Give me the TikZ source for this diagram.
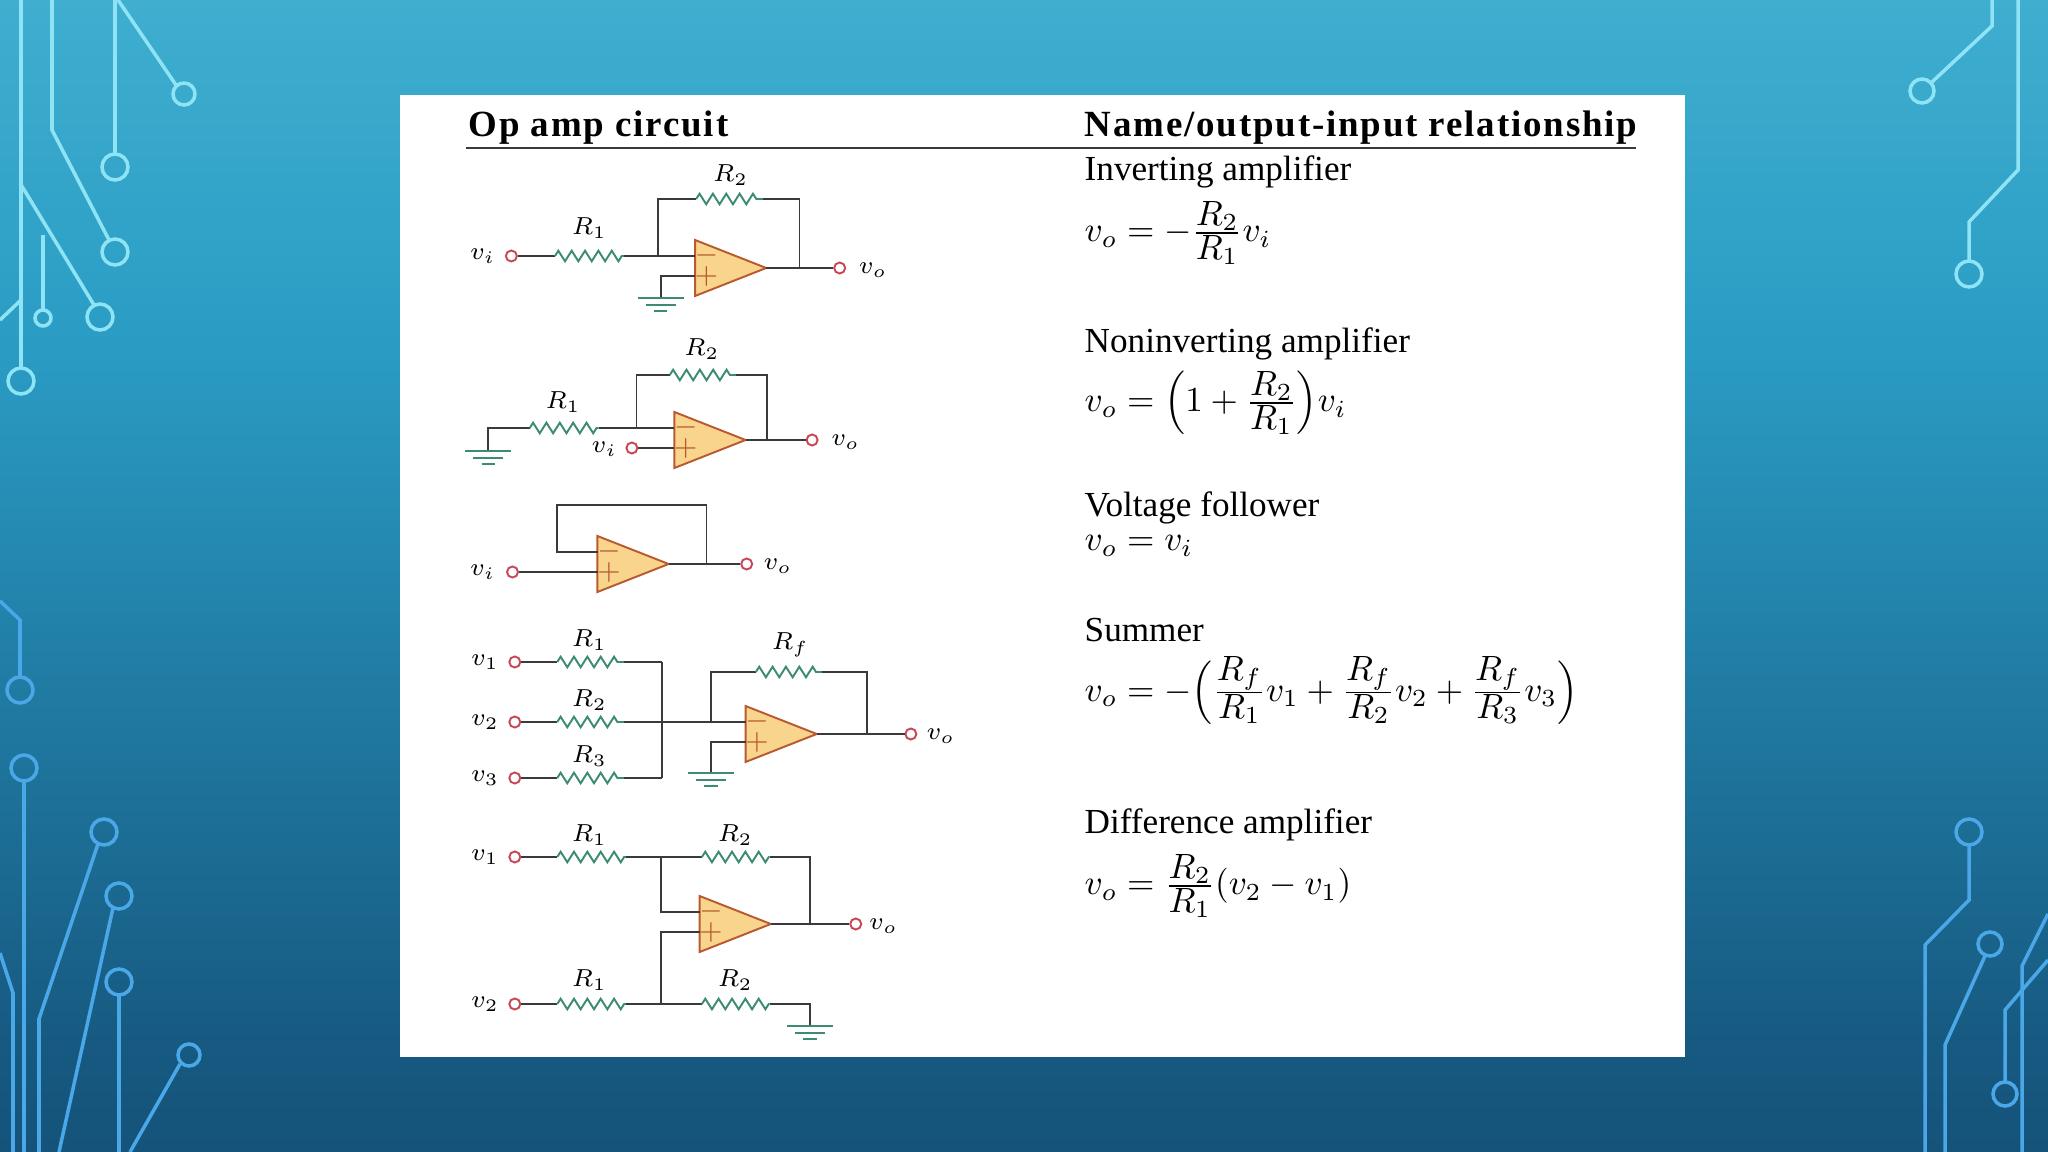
\documentclass[tikz,border=0pt]{standalone}
\usepackage{amsmath}
\usepackage{fontspec}
\setmainfont{Liberation Serif}
\usetikzlibrary{decorations.pathmorphing}
\definecolor{bgtop}{HTML}{62CCE2}
\definecolor{bgmid}{HTML}{2A9CC4}
\definecolor{bgbot}{HTML}{0A2E55}
\definecolor{deco}{HTML}{8EE4F4}
\definecolor{decob}{HTML}{4AA8E8}
\definecolor{wirec}{HTML}{3A3A3A}
\definecolor{resc}{HTML}{3C8C70}
\definecolor{oafill}{HTML}{F9D48C}
\definecolor{oaedge}{HTML}{B85A30}
\definecolor{termc}{HTML}{C84858}
\pgfdeclareverticalshading{bgsh}{100bp}{color(0bp)=(bgbot); color(30bp)=(bgbot!60!bgmid); color(60bp)=(bgmid); color(100bp)=(bgtop)}
\newcommand\ff[2]{\tfrac{\textstyle #1}{\textstyle #2}}
\tikzset{
 wire/.style={draw=wirec,line width=0.55pt},
 resst/.style={draw=resc,line width=0.55pt,decorate,decoration={zigzag,segment length=3.8pt,amplitude=1.5pt}},
 term/.style={circle,draw=termc,fill=white,line width=0.55pt,minimum size=0.11cm,inner sep=0pt},
 lab/.style={font=\fontsize{7.5}{8}\selectfont,inner sep=0pt},
 sgn/.style={text=oaedge,font=\fontsize{8}{8}\selectfont,inner sep=0pt},
 gnds/.style={draw=resc,line width=0.55pt},
 txt/.style={font=\fontsize{10}{12}\selectfont,anchor=west,inner sep=0pt},
 mth/.style={font=\fontsize{10}{12}\selectfont,anchor=west,inner sep=0pt},
 hdr/.style={font=\fontsize{10.5}{12}\selectfont\bfseries\addfontfeature{LetterSpace=5},anchor=base west,inner sep=0pt},
 dec/.style={draw=deco,line width=1pt},
 decb/.style={draw=decob,line width=1pt},
 zA/.style={shift={(400,0)},xscale=1.148,shift={(-400,0)}},
}
\newcommand\oa[3]{%
 \coordinate (#1-m) at (#2,#3-12);
 \coordinate (#1-p) at (#2,#3+8);
 \coordinate (#1-o) at (#2+62,#3);
 \draw[fill=oafill,draw=oaedge,line width=0.55pt] (#2,#3-28) -- (#2+62,#3) -- (#2,#3+28) -- cycle;
 \node[sgn] at (#2+10,#3-13) {$-$};
 \node[sgn] at (#2+10,#3+8) {$+$};}
\newcommand\gnd[2]{%
 \draw[gnds] (#1-20,#2) -- (#1+20,#2) (#1-13,#2+7) -- (#1+13,#2+7) (#1-6,#2+13) -- (#1+6,#2+13);}
\begin{document}
\begin{tikzpicture}[x=0.01cm,y=-0.01cm]
\useasboundingbox (0,0) rectangle (2048,1152);
\shade[shading=bgsh] (0,0) rectangle (2048,1152);
% decorations left
\draw[dec] (21,0) -- (21,368); \draw[dec,fill=none] (21,381) circle (13);
\draw[dec] (115,0) -- (115,154); \draw[dec] (115,167) circle (13);
\draw[dec] (118,0) -- (176,85); \draw[dec] (184,94) circle (11);
\draw[dec] (52,0) -- (52,130) -- (109,240); \draw[dec] (115,252) circle (13);
\draw[dec] (20,183) -- (94,305); \draw[dec] (100,317) circle (13);
\draw[dec] (43,235) -- (43,310); \draw[dec] (43,318) circle (8);
\draw[dec] (0,320) -- (21,300);
\draw[decb] (0,601) -- (20,620) -- (20,677); \draw[decb] (20,690) circle (13);
\draw[decb] (24,781) -- (24,1152); \draw[decb] (24,768) circle (13);
\draw[decb] (98,844) -- (39,1019) -- (39,1152); \draw[decb] (104,832) circle (13);
\draw[decb] (113,908) -- (59,1152); \draw[decb] (119,896) circle (13);
\draw[decb] (119,995) -- (119,1152); \draw[decb] (119,982) circle (13);
\draw[decb] (180,1064) -- (130,1152); \draw[decb] (189,1055) circle (11);
\draw[decb] (0,953) -- (13,993) -- (13,1152);
% decorations right
\draw[dec] (1932,82) -- (1992,26) -- (1992,0); \draw[dec] (1922,91) circle (12);
\draw[dec] (1969,261) -- (1969,222) -- (2018,170) -- (2018,0); \draw[dec] (1969,274) circle (13);
\draw[decb] (1969,845) -- (1969,900) -- (1925,945) -- (1925,1152); \draw[decb] (1969,832) circle (13);
\draw[decb] (1985,956) -- (1945,1045) -- (1945,1152); \draw[decb] (1990,944) circle (12);
\draw[decb] (2005,1081) -- (2005,1010) -- (2048,960); \draw[decb] (2005,1094) circle (12);
\draw[decb] (2048,914) -- (2022,966) -- (2022,1152);
% panel
\fill[white] (400,95) rectangle (1685,1057);
\node[hdr] (h1) at (468,137) {Op amp circuit};
\node[hdr] (h2) at (1084,137) {Name/output-input relationship};
\draw[wirec,line width=0.8pt] (466,148) -- (1636,148);
\begin{scope}[zA]
% circuit 1
\oa{A}{657}{268}
\node[term] (c1i) at (497,256) {}; \node[lab] at (472,256) {$v_i$};
\node[term] (c1o) at (783,268) {}; \node[lab] at (812,270) {$v_o$};
\draw[wire] (c1i) -- (535,256); \draw[resst] (535,256) -- (595,256); \draw[wire] (595,256) -- (A-m);
\draw[wire] (625,256) |- (658,199); \draw[resst] (658,199) -- (716,199); \draw[wire] (716,199) -| (748,268);
\draw[wire] (A-o) -- (c1o); \draw[wire] (A-p) -| (627,298); \gnd{627}{298}
\node[lab] at (565,228) {$R_1$}; \node[lab] at (688,175) {$R_2$};
% circuit 2
\oa{B}{639}{440}
\draw[wire] (477,451) |- (513,428); \gnd{477}{451}
\draw[resst] (513,428) -- (573,428); \draw[wire] (573,428) -- (B-m);
\draw[wire] (606,428) |- (635,375); \draw[resst] (635,375) -- (693,375); \draw[wire] (693,375) -| (720,440);
\node[term] (c2i) at (602,448) {}; \node[lab] at (578,449) {$v_i$};
\draw[wire] (c2i) -- (B-p);
\node[term] (c2o) at (759,440) {}; \node[lab] at (788,442) {$v_o$};
\draw[wire] (B-o) -- (c2o);
\node[lab] at (542,402) {$R_1$}; \node[lab] at (663,349) {$R_2$};
% circuit 3
\oa{C}{572}{564}
\node[term] (c3i) at (498,572) {}; \node[lab] at (472,572) {$v_i$};
\draw[wire] (c3i) -- (C-p);
\draw[wire] (C-m) -- (537,552) |- (667,505) -- (667,564);
\node[term] (c3o) at (702,564) {}; \node[lab] at (729,566) {$v_o$};
\draw[wire] (C-o) -- (c3o);
% circuit 4
\oa{D}{701}{734}
\foreach \n/\y in {1/662,2/722,3/778}{
 \node[term] (d\n) at (500,\y) {}; \node[lab] at (474,\y) {$v_\n$};
 \draw[wire] (d\n) -- (537,\y); \draw[resst] (537,\y) -- (595,\y); \draw[wire] (595,\y) -- (628,\y);
 \node[lab] at (565,\y-22) {$R_\n$};}
\draw[wire] (628,662) -- (628,778); \draw[wire] (628,722) -- (D-m);
\draw[wire] (671,722) |- (710,672); \draw[resst] (710,672) -- (768,672); \draw[wire] (768,672) -| (807,734);
\draw[wire] (D-p) -| (671,773); \gnd{671}{773}
\node[term] (d4) at (845,734) {}; \node[lab] at (871,736) {$v_o$};
\draw[wire] (D-o) -- (d4);
\node[lab] at (740,645) {$R_f$};
% circuit 5
\oa{E}{661}{924}
\node[term] (e1) at (500,857) {}; \node[lab] at (474,857) {$v_1$};
\node[term] (e2) at (500,1004) {}; \node[lab] at (474,1004) {$v_2$};
\draw[wire] (e1) -- (537,857); \draw[resst] (537,857) -- (597,857); \draw[wire] (597,857) -- (663,857);
\draw[resst] (663,857) -- (722,857); \draw[wire] (722,857) -| (757,924);
\draw[wire] (627,857) |- (E-m);
\draw[wire] (e2) -- (537,1004); \draw[resst] (537,1004) -- (597,1004); \draw[wire] (597,1004) -- (663,1004);
\draw[resst] (663,1004) -- (722,1004); \draw[wire] (722,1004) -| (757,1026); \gnd{757}{1026}
\draw[wire] (627,1004) |- (E-p);
\node[term] (e3) at (797,924) {}; \node[lab] at (821,926) {$v_o$};
\draw[wire] (E-o) -- (e3);
\node[lab] at (565,835) {$R_1$}; \node[lab] at (692,835) {$R_2$};
\node[lab] at (565,980) {$R_1$}; \node[lab] at (692,980) {$R_2$};
\end{scope}
% right column
\node[txt] (t1) at (1084,172) {Inverting amplifier};
\node[mth] (f1) at (1084,233) {$v_o = -\ff{R_2}{R_1}v_i$};
\node[txt] (t2) at (1084,344) {Noninverting amplifier};
\node[mth] (f2) at (1084,403) {$v_o = \Bigl(1+\ff{R_2}{R_1}\Bigr)v_i$};
\node[txt] (t3) at (1084,508) {Voltage follower};
\node[mth] (f3) at (1084,546) {$v_o = v_i$};
\node[txt] (t4) at (1084,630) {Summer};
\node[mth] (f4) at (1084,690) {$v_o = -\Bigl(\ff{R_f}{R_1}v_1+\ff{R_f}{R_2}v_2+\ff{R_f}{R_3}v_3\Bigr)$};
\node[txt] (t5) at (1084,825) {Difference amplifier};
\node[mth] (f5) at (1084,886) {$v_o = \ff{R_2}{R_1}(v_2-v_1)$};
\end{tikzpicture}
\end{document}
